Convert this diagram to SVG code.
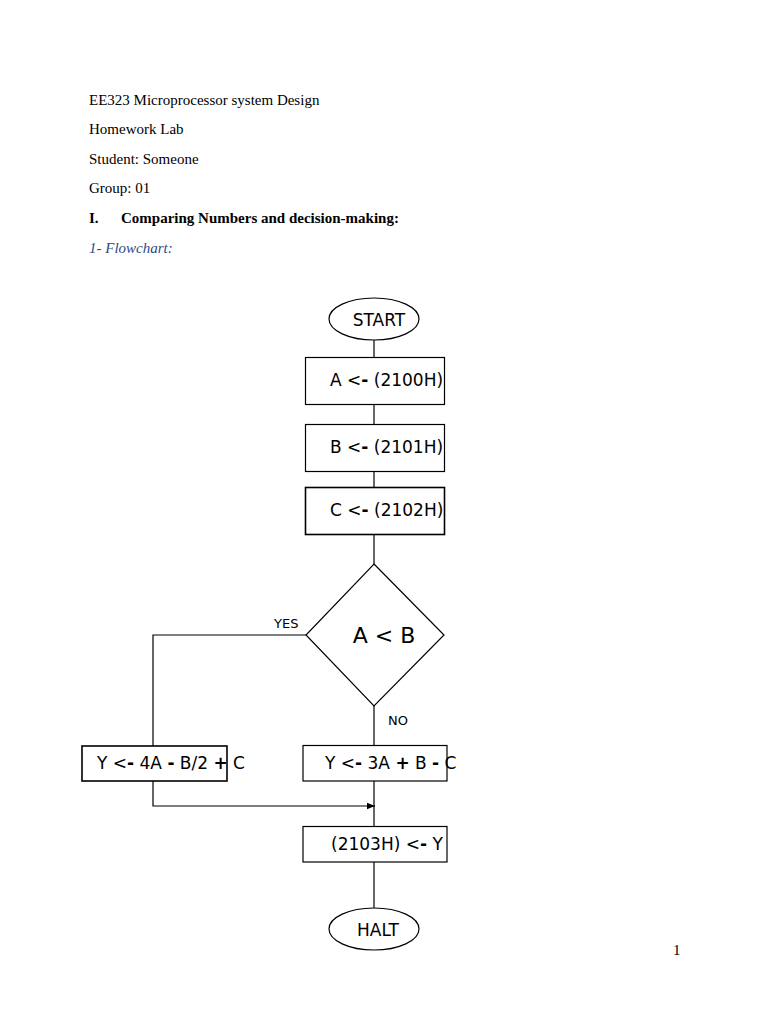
<svg xmlns="http://www.w3.org/2000/svg" width="768" height="1024" viewBox="0 0 768 1024">
<style>
.doc{font-family:"Liberation Serif","Times New Roman",serif;font-size:15px;fill:#000}
.lbl{font-family:"DejaVu Sans",sans-serif;font-size:17px;fill:#000}
.big{font-family:"DejaVu Sans",sans-serif;font-size:22px;fill:#000}
.small{font-family:"DejaVu Sans",sans-serif;font-size:13px;fill:#000}
.shape{fill:#fff;stroke:#000;stroke-width:1.2}
.thick{fill:#fff;stroke:#000;stroke-width:1.6}
.conn{fill:none;stroke:#000;stroke-width:1.2}
</style>
<defs>
<marker id="arr" viewBox="0 0 10 10" refX="10" refY="5" markerWidth="8" markerHeight="8" markerUnits="userSpaceOnUse" orient="auto">
<path d="M0,1 L10,5 L0,9 z" fill="#000"/>
</marker>
</defs>
<rect width="768" height="1024" fill="#fff"/>
<g id="header">
<text class="doc" x="89" y="105">EE323 Microprocessor system Design</text>
<text class="doc" x="89" y="134">Homework Lab</text>
<text class="doc" x="89" y="164">Student: Someone</text>
<text class="doc" x="89" y="193">Group: 01</text>
<text class="doc" x="89" y="223" font-weight="bold">I.</text>
<text class="doc" x="121" y="223" font-weight="bold">Comparing Numbers and decision-making:</text>
<text class="doc" x="89" y="253" font-style="italic" style="fill:#2F4B85">1- Flowchart:</text>
</g>
<g id="connectors">
<line class="conn" x1="374" y1="340" x2="374" y2="357"/>
<line class="conn" x1="374" y1="405" x2="374" y2="424"/>
<line class="conn" x1="374" y1="472" x2="374" y2="487"/>
<line class="conn" x1="374" y1="535" x2="374" y2="564"/>
<polyline class="conn" points="306,635 153,635 153,746"/>
<line class="conn" x1="374" y1="706" x2="374" y2="745"/>
<polyline class="conn" points="153,781 153,806 375,806" marker-end="url(#arr)"/>
<line class="conn" x1="374" y1="781" x2="374" y2="826"/>
<line class="conn" x1="374" y1="862" x2="374" y2="908"/>
<text class="small" x="274" y="628">YES</text>
<text class="small" x="388" y="725">NO</text>
</g>
<g id="start">
<ellipse class="shape" cx="374" cy="319" rx="45" ry="21"/>
<text class="lbl" x="379" y="326" text-anchor="middle">START</text>
</g>
<g id="loadA">
<rect class="shape" x="305.5" y="357.5" width="139" height="47"/>
<text class="lbl" x="330" y="386">A &lt;<tspan font-weight="bold">-</tspan> (2100H)</text>
</g>
<g id="loadB">
<rect class="shape" x="305.5" y="424.5" width="139" height="47"/>
<text class="lbl" x="330" y="453">B &lt;<tspan font-weight="bold">-</tspan> (2101H)</text>
</g>
<g id="loadC">
<rect class="thick" x="305.5" y="487.5" width="139" height="47"/>
<text class="lbl" x="330" y="516">C &lt;<tspan font-weight="bold">-</tspan> (2102H)</text>
</g>
<g id="decision">
<polygon class="shape" points="374,564 444,635 374,706 306,635"/>
<text class="big" x="384" y="643" text-anchor="middle">A &lt; B</text>
</g>
<g id="yesBox">
<rect class="thick" x="82" y="746" width="145" height="35"/>
<text class="lbl" x="97" y="769">Y &lt;<tspan font-weight="bold">-</tspan> 4A <tspan font-weight="bold">-</tspan> B/2 <tspan font-weight="bold">+</tspan> C</text>
</g>
<g id="noBox">
<rect class="shape" x="303" y="745.5" width="144" height="35.5"/>
<text class="lbl" x="325" y="769">Y &lt;<tspan font-weight="bold">-</tspan> 3A <tspan font-weight="bold">+</tspan> B <tspan font-weight="bold">-</tspan> C</text>
</g>
<g id="store">
<rect class="shape" x="303" y="826.5" width="144" height="35.5"/>
<text class="lbl" x="331" y="850">(2103H) &lt;<tspan font-weight="bold">-</tspan> Y</text>
</g>
<g id="halt">
<ellipse class="shape" cx="374" cy="929" rx="45" ry="21"/>
<text class="lbl" x="378" y="936" text-anchor="middle">HALT</text>
</g>
<text class="doc" x="673" y="955">1</text>
</svg>
